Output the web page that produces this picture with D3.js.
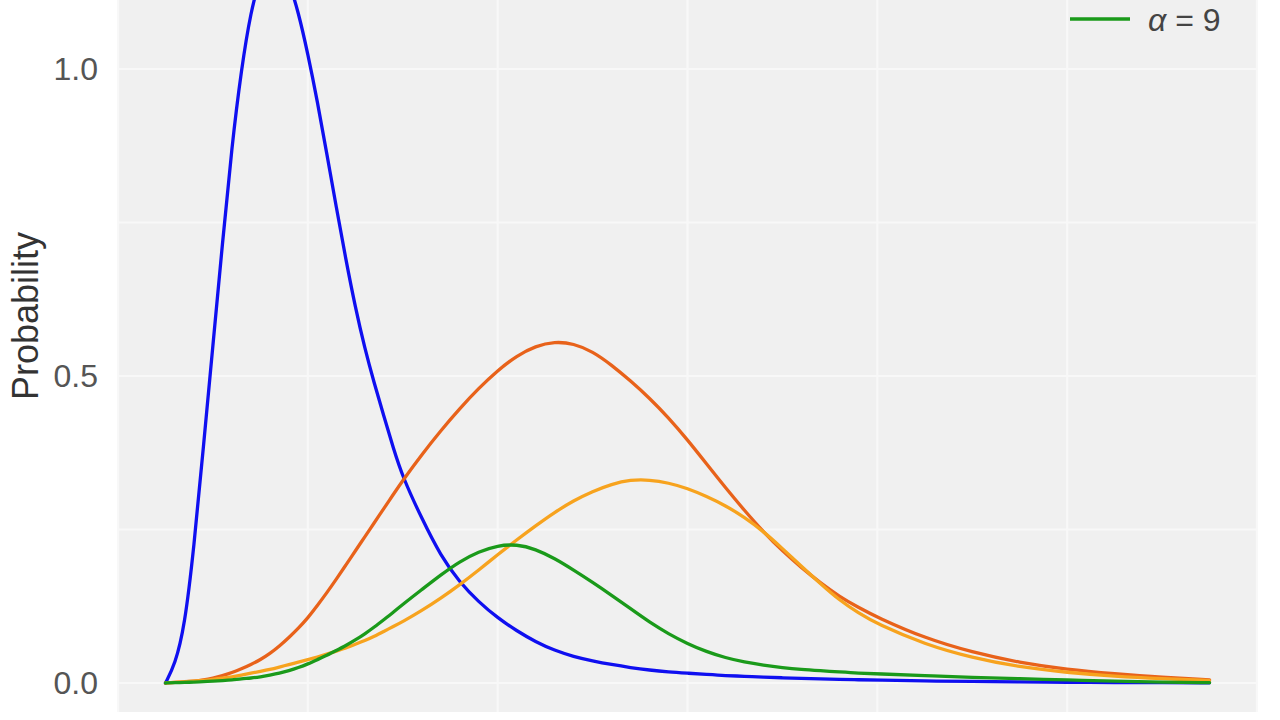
<!DOCTYPE html>
<html>
<head>
<meta charset="utf-8">
<script src="https://cdn.jsdelivr.net/npm/d3@7"></script>
<style>
  html, body { margin: 0; padding: 0; background: #ffffff; }
  svg { display: block; }
</style>
</head>
<body>
<svg id="chart" width="1280" height="720"></svg>
<script>
// ---------- data ----------
const xValues = [
  -2.75, -2.70, -2.65, -2.60, -2.55, -2.50, -2.45, -2.40, -2.35, -2.30,
  -2.25, -2.20, -2.15, -2.10, -2.05, -2.00, -1.95, -1.90, -1.85, -1.80,
  -1.75, -1.70, -1.65, -1.60, -1.55, -1.50,
  -1.4, -1.3, -1.2, -1.1, -1.0, -0.9, -0.8, -0.7, -0.6, -0.5,
  -0.4, -0.3, -0.2, -0.1, 0.0, 0.1, 0.2, 0.3, 0.4, 0.5,
  0.6, 0.7, 0.8, 0.9, 1.0,
  1.25, 1.5, 1.75, 2.0, 2.25, 2.5, 2.75
];

const blueValues = [
  0, 0.03, 0.09, 0.22, 0.385, 0.55, 0.715, 0.875, 1.0, 1.095,
  1.15, 1.172, 1.17, 1.143, 1.093, 1.025, 0.948, 0.862, 0.775, 0.69,
  0.612, 0.545, 0.488, 0.435, 0.383, 0.335,
  0.268, 0.207, 0.164, 0.132, 0.106, 0.085, 0.067, 0.053, 0.043, 0.036,
  0.03, 0.025, 0.021, 0.018, 0.016, 0.014, 0.012, 0.011, 0.0095, 0.0085,
  0.0075, 0.0068, 0.006, 0.0053, 0.0047,
  0.0034, 0.0025, 0.0018, 0.0012, 0.0008, 0.0005, 0.0003
];

const orangeRedValues = [
  0, 0.001, 0.002, 0.003, 0.005, 0.008, 0.012, 0.017, 0.023, 0.03,
  0.038, 0.048, 0.06, 0.074, 0.089, 0.106, 0.126, 0.147, 0.169, 0.192,
  0.215, 0.238, 0.261, 0.284, 0.307, 0.33,
  0.372, 0.411, 0.447, 0.48, 0.509, 0.533, 0.549, 0.556, 0.553, 0.54,
  0.518, 0.492, 0.464, 0.432, 0.396, 0.357, 0.318, 0.281, 0.246, 0.215,
  0.188, 0.163, 0.141, 0.123, 0.107,
  0.073, 0.05, 0.033, 0.022, 0.015, 0.009, 0.005
];

const orangeValues = [
  0, 0.001, 0.002, 0.003, 0.004, 0.006, 0.008, 0.01, 0.013, 0.016,
  0.019, 0.022, 0.026, 0.03, 0.034, 0.038, 0.042, 0.047, 0.052, 0.057,
  0.063, 0.069, 0.076, 0.084, 0.092, 0.1,
  0.118, 0.138, 0.16, 0.184, 0.209, 0.233, 0.256, 0.278, 0.297, 0.312,
  0.324, 0.331, 0.331, 0.326, 0.317, 0.304, 0.289, 0.27, 0.247, 0.219,
  0.19, 0.162, 0.135, 0.114, 0.096,
  0.063, 0.041, 0.026, 0.017, 0.011, 0.007, 0.004
];

const greenValues = [
  0, 0.0005, 0.001, 0.0015, 0.002, 0.003, 0.004, 0.005, 0.007, 0.008,
  0.01, 0.013, 0.016, 0.02, 0.025, 0.031, 0.038, 0.045, 0.053, 0.061,
  0.07, 0.08, 0.091, 0.103, 0.115, 0.128,
  0.152, 0.176, 0.198, 0.214, 0.224, 0.226, 0.218, 0.203, 0.184, 0.164,
  0.143, 0.121, 0.099, 0.08, 0.064, 0.051, 0.041, 0.034, 0.029, 0.025,
  0.022, 0.02, 0.018, 0.016, 0.015,
  0.012, 0.009, 0.007, 0.005, 0.003, 0.0015, 0.0005
];

const yTickValues = [0, 0.5, 1.0];
const yGridValues = [0, 0.25, 0.5, 0.75, 1.0];
const xGridValues = [-3, -2, -1, 0, 1, 2, 3];
const yAxisTitle = "Probability";
const legendSymbol = "α";
const legendRest = " = 9";

// ---------- layout ----------
const svg = d3.select("#chart");
const plotLeft = 118, plotRight = 1257, plotTop = -20, plotBottom = 712;

const x = d3.scaleLinear().domain([-3, 3]).range([plotLeft, plotRight]);
const y = d3.scaleLinear().domain([0, 1]).range([683, 69]);

svg.append("rect")
  .attr("x", plotLeft).attr("y", plotTop)
  .attr("width", plotRight - plotLeft).attr("height", plotBottom - plotTop)
  .attr("fill", "#f0f0f0");

svg.append("clipPath").attr("id", "plotclip")
  .append("rect")
  .attr("x", plotLeft).attr("y", plotTop)
  .attr("width", plotRight - plotLeft).attr("height", plotBottom - plotTop);

const grid = svg.append("g");
grid.selectAll("line.h").data(yGridValues).join("line")
  .attr("class", "h")
  .attr("x1", plotLeft).attr("x2", plotRight)
  .attr("y1", d => y(d)).attr("y2", d => y(d))
  .attr("stroke", "#f8f8f8").attr("stroke-width", 2.2);
grid.selectAll("line.v").data(xGridValues).join("line")
  .attr("class", "v")
  .attr("y1", plotTop).attr("y2", plotBottom)
  .attr("x1", d => x(d)).attr("x2", d => x(d))
  .attr("stroke", "#f8f8f8").attr("stroke-width", 2.2);

// y axis tick labels via d3 axis
const yAxis = d3.axisLeft(y).tickValues(yTickValues).tickFormat(d3.format(".1f")).tickSize(0).tickPadding(20);
const yAxisG = svg.append("g").attr("transform", `translate(${plotLeft},0)`).call(yAxis);
yAxisG.select(".domain").remove();
yAxisG.selectAll("text")
  .attr("font-family", "'Liberation Sans', Arial, sans-serif")
  .attr("font-size", 32)
  .attr("fill", "#555555")
  .attr("dy", "0.34em");

// axis title
svg.append("text")
  .attr("transform", "translate(38,316) rotate(-90)")
  .attr("text-anchor", "middle")
  .attr("font-family", "'Liberation Sans', Arial, sans-serif")
  .attr("font-size", 36)
  .attr("fill", "#333333")
  .text(yAxisTitle);

// series
const series = [
  { values: blueValues, color: "#0f0ff0" },
  { values: orangeRedValues, color: "#e8621a" },
  { values: orangeValues, color: "#f7a31e" },
  { values: greenValues, color: "#1a9a1a" }
];

const line = d3.line()
  .x((d, i) => x(xValues[i]))
  .y(d => y(d))
  .curve(d3.curveBasis);

const lines = svg.append("g").attr("clip-path", "url(#plotclip)");
lines.selectAll("path").data(series).join("path")
  .attr("d", d => line(d.values))
  .attr("fill", "none")
  .attr("stroke", d => d.color)
  .attr("stroke-width", 3.3)
  .attr("stroke-linejoin", "round")
  .attr("stroke-linecap", "round");

// legend (visible entry)
const lg = svg.append("g").attr("transform", "translate(1070,19)");
lg.append("line").attr("x1", 0).attr("x2", 60).attr("y1", 0).attr("y2", 0)
  .attr("stroke", "#1a9a1a").attr("stroke-width", 3.3);
const lt = lg.append("text")
  .attr("x", 78).attr("y", 0).attr("dy", "0.36em")
  .attr("font-family", "'Liberation Sans', Arial, sans-serif")
  .attr("font-size", 32)
  .attr("fill", "#444444");
lt.append("tspan").attr("font-style", "italic").text(legendSymbol);
lt.append("tspan").text(legendRest);
</script>
</body>
</html>
